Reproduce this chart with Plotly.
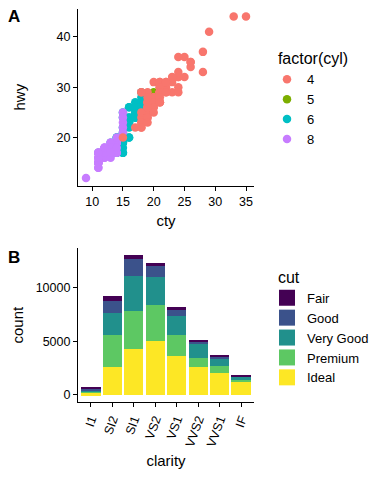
import plotly.graph_objects as go

# ---------------- Panel A data: mpg (cty vs hwy by cylinders) ----------------
cty_4 = [18, 21, 20, 21, 20, 19, 19, 22, 18, 28, 24, 25, 23, 24, 26, 25, 24, 21,
         21, 21, 21, 19, 19, 20, 20, 19, 21, 23, 23, 18, 18, 20, 20, 19, 19, 18,
         19, 20, 20, 20, 19, 15, 21, 21, 21, 22, 21, 21, 22, 21, 24, 24, 26, 28,
         26, 17, 18, 18, 19, 21, 22, 33, 21, 19, 22, 35, 29, 21, 19, 18, 21, 19, 24]
hwy_4 = [29, 29, 31, 30, 28, 27, 27, 30, 24, 33, 32, 32, 29, 32, 34, 36, 36, 29,
         27, 30, 31, 26, 29, 28, 27, 27, 29, 31, 32, 25, 23, 27, 26, 25, 24, 22,
         26, 27, 26, 25, 24, 20, 29, 27, 31, 31, 30, 29, 31, 29, 30, 33, 35, 37,
         35, 22, 23, 22, 26, 29, 29, 44, 29, 26, 29, 44, 41, 28, 28, 29, 27, 23, 29]

cty_5 = [21, 21, 20, 20]
hwy_5 = [29, 29, 28, 29]

cty_6 = [16, 18, 18, 15, 17, 15, 18, 18, 17, 17, 16, 11, 15, 15, 16, 15, 14, 13,
         14, 13, 15, 14, 13, 18, 18, 17, 16, 19, 16, 17, 15, 15, 14, 19, 18, 19,
         15, 14, 17, 18, 15, 16, 15, 16, 15, 17, 16, 17, 17, 17, 16, 14]
hwy_6 = [26, 26, 27, 25, 25, 24, 29, 26, 26, 24, 22, 17, 22, 21, 23, 19, 18, 17,
         17, 17, 19, 17, 19, 26, 25, 26, 24, 28, 24, 24, 20, 17, 17, 27, 26, 25,
         17, 20, 27, 28, 18, 20, 19, 20, 17, 24, 23, 24, 26, 25, 26, 20]

cty_8 = [11, 13, 12, 15, 15, 14, 11, 11, 14, 14, 9, 11, 11, 13, 13, 11, 13, 11,
         12, 13, 12, 11, 11, 12, 13, 13, 14, 11, 15, 15, 14, 11, 12, 11, 11, 11,
         12, 13, 12, 11, 13, 15, 12, 14, 13, 14]
hwy_8 = [15, 17, 17, 23, 25, 19, 14, 15, 17, 19, 12, 17, 15, 17, 17, 16, 18, 15,
         16, 17, 16, 15, 17, 18, 19, 16, 17, 15, 22, 24, 19, 14, 18, 16, 17, 16,
         18, 19, 17, 17, 18, 21, 18, 18, 17, 20]

cty_ticks = [10, 15, 20, 25, 30, 35]
hwy_ticks = [20, 30, 40]

# ---------------- Panel B data: diamonds counts by clarity and cut -----------
clarity = ["I1", "SI2", "SI1", "VS2", "VS1", "VVS2", "VVS1", "IF"]
cut_levels = ["Fair", "Good", "Very Good", "Premium", "Ideal"]
fair = [210, 466, 408, 261, 170, 69, 17, 9]
good = [96, 1081, 1560, 978, 648, 286, 186, 71]
very_good = [84, 2100, 3240, 2591, 1775, 1235, 789, 268]
premium = [205, 2949, 3575, 3357, 1989, 870, 616, 230]
ideal = [146, 2598, 4282, 5071, 3589, 2606, 2047, 1212]
count_ticks = [0, 5000, 10000]

cyl_colors = {"4": "#F8766D", "5": "#7CAE00", "6": "#00BFC4", "8": "#C77CFF"}
cut_colors = ["#440154", "#3B528B", "#21908C", "#5DC863", "#FDE725"]

# page body has an 8px margin -> figure is drawn 8px in from the window edge
OFF = 8
W, H = 384 - OFF, 480 - OFF
FONT = "Liberation Sans, Arial, sans-serif"
TXT = "#000000"


def px_x(p):
    return (p - OFF) / W


def px_y(p):
    return 1 - (p - OFF) / H


fig = go.Figure()

# draw order approximates the overlap of the original data order
for key, xs, ys, order in [("6", cty_6, hwy_6, 3), ("8", cty_8, hwy_8, 4),
                           ("5", cty_5, hwy_5, 2), ("4", cty_4, hwy_4, 1)]:
    fig.add_trace(go.Scatter(
        x=xs, y=ys, mode="markers", name=key,
        marker=dict(color=cyl_colors[key], size=8.5, line=dict(width=0)),
        xaxis="x", yaxis="y", legend="legend", legendrank=order))

series = [fair, good, very_good, premium, ideal]
for i in range(4, -1, -1):
    fig.add_trace(go.Bar(
        x=clarity, y=series[i], name=cut_levels[i], legendgroup=cut_levels[i],
        marker=dict(color=cut_colors[i], line=dict(width=0)),
        width=0.9, xaxis="x2", yaxis="y2", showlegend=False))

# legend keys for the stacked bars (square swatches)
for i in range(5):
    fig.add_trace(go.Scatter(
        x=[None], y=[None], mode="markers", name=cut_levels[i],
        legendgroup=cut_levels[i], legend="legend2", legendrank=i + 1,
        marker=dict(symbol="square", size=16, color=cut_colors[i], line=dict(width=0)),
        xaxis="x2", yaxis="y2"))

axis_common = dict(
    showline=True, linecolor="black", linewidth=1.1, ticks="outside",
    ticklen=4, tickwidth=1.1, tickcolor="black", showgrid=False, zeroline=False,
    tickfont=dict(family=FONT, size=12.5, color=TXT),
    title_font=dict(family=FONT, size=15, color=TXT),
)

title_font = dict(family=FONT, size=15, color=TXT)
leg_title_font = dict(family=FONT, size=16, color=TXT)
leg_font = dict(family=FONT, size=13, color=TXT)

fig.update_layout(
    width=W, height=H, margin=dict(l=0, r=0, t=0, b=0),
    paper_bgcolor="white", plot_bgcolor="white",
    font=dict(family=FONT, color=TXT),
    barmode="stack", bargap=0.1,
    xaxis=dict(domain=[px_x(78), px_x(254)], anchor="y", range=[7.7, 36.3],
               tickvals=cty_ticks, title=dict(text="cty", standoff=7),
               **axis_common),
    yaxis=dict(domain=[px_y(186), px_y(8.5)], anchor="x", range=[10.4, 45.6],
               tickvals=hwy_ticks, **axis_common),
    xaxis2=dict(domain=[px_x(78), px_x(254)], anchor="y2", range=[-0.6, 7.6],
                type="category", tickangle=-70, title=dict(text="clarity", standoff=7),
                **axis_common),
    yaxis2=dict(domain=[px_y(402), px_y(247.8)], anchor="x2", range=[-653, 13718],
                tickvals=count_ticks, ticktext=[str(v) for v in count_ticks],
                **axis_common),
    legend=dict(x=px_x(267), y=px_y(43.5), xanchor="left", yanchor="top",
                title=dict(text="&nbsp;&nbsp;factor(cyl)", font=leg_title_font),
                font=leg_font, itemsizing="trace",
                bgcolor="rgba(0,0,0,0)", tracegroupgap=0, traceorder="normal"),
    legend2=dict(x=px_x(267), y=px_y(262), xanchor="left", yanchor="top",
                 title=dict(text="&nbsp;&nbsp;cut", font=leg_title_font),
                 font=leg_font, itemsizing="trace",
                 bgcolor="rgba(0,0,0,0)", tracegroupgap=0, traceorder="normal"),
    annotations=[
        dict(text="<b>A</b>", x=px_x(6), y=px_y(17), xref="paper", yref="paper",
             xanchor="left", yanchor="middle", showarrow=False,
             font=dict(family=FONT, size=17, color="black")),
        dict(text="<b>B</b>", x=px_x(6), y=px_y(257), xref="paper", yref="paper",
             xanchor="left", yanchor="middle", showarrow=False,
             font=dict(family=FONT, size=17, color="black")),
        # y-axis titles
        dict(text="hwy", x=px_x(19), y=px_y(97.5), xref="paper", yref="paper",
             xanchor="center", yanchor="middle", textangle=-90, showarrow=False,
             font=title_font),
        dict(text="count", x=px_x(16.5), y=px_y(325), xref="paper", yref="paper",
             xanchor="center", yanchor="middle", textangle=-90, showarrow=False,
             font=title_font),
    ],
)

fig.write_html("out.html")
